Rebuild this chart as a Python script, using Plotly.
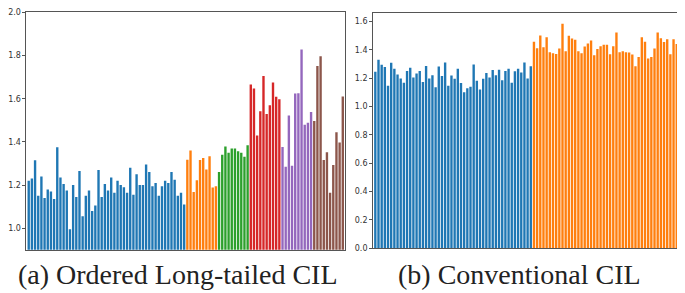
import plotly.graph_objects as go

# ---- data: (a) Ordered Long-tailed CIL ----
a_blue = [1.22, 1.23, 1.315, 1.15, 1.24, 1.14, 1.18, 1.17, 1.135, 1.375,
          1.235, 1.205, 1.175, 0.995, 1.20, 1.145, 1.265, 1.055, 1.15, 1.175,
          1.08, 1.105, 1.27, 1.145, 1.205, 1.175, 1.235, 1.165, 1.22, 1.20,
          1.19, 1.165, 1.28, 1.155, 1.25, 1.20, 1.20, 1.295, 1.26, 1.195,
          1.21, 1.15, 1.195, 1.22, 1.21, 1.26, 1.225, 1.15, 1.165, 1.11]
a_orange = [1.317, 1.360, 1.168, 1.222, 1.316, 1.326, 1.272, 1.334, 1.189, 1.195]
a_green = [1.260, 1.340, 1.379, 1.350, 1.370, 1.370, 1.357, 1.350, 1.331, 1.385]
a_red = [1.666, 1.648, 1.430, 1.542, 1.705, 1.529, 1.570, 1.675, 1.609, 1.598]
a_purple = [1.377, 1.285, 1.522, 1.290, 1.624, 1.626, 1.828, 1.479, 1.489, 1.539]
a_brown = [1.497, 1.752, 1.797, 1.316, 1.352, 1.165, 1.293, 1.445, 1.397, 1.610]

# ---- data: (b) Conventional CIL ----
b_blue = [1.246, 1.329, 1.295, 1.279, 1.147, 1.309, 1.267, 1.225, 1.198, 1.168,
          1.251, 1.274, 1.205, 1.232, 1.251, 1.172, 1.286, 1.198, 1.221, 1.135,
          1.283, 1.216, 1.311, 1.147, 1.218, 1.195, 1.267, 1.165, 1.101, 1.128,
          1.140, 1.297, 1.181, 1.119, 1.195, 1.237, 1.205, 1.258, 1.221, 1.260,
          1.186, 1.251, 1.267, 1.168, 1.249, 1.267, 1.239, 1.311, 1.197, 1.284]
b_orange = [1.457, 1.411, 1.501, 1.418, 1.489, 1.383, 1.376, 1.371, 1.409, 1.584,
            1.390, 1.499, 1.480, 1.471, 1.390, 1.376, 1.423, 1.445, 1.466, 1.362,
            1.406, 1.425, 1.436, 1.436, 1.369, 1.425, 1.522, 1.383, 1.390, 1.383,
            1.381, 1.367, 1.284, 1.350, 1.489, 1.457, 1.339, 1.350, 1.409, 1.522,
            1.482, 1.455, 1.475, 1.369, 1.475, 1.441, 1.369, 1.418, 1.541, 1.355]

a_y_ticks = [1.0, 1.2, 1.4, 1.6, 1.8, 2.0]
b_y_ticks = [0.0, 0.2, 0.4, 0.6, 0.8, 1.0, 1.2, 1.4, 1.6]
captions = ["(a) Ordered Long-tailed CIL", "(b) Conventional CIL"]

BLUE, ORANGE, GREEN, RED, PURPLE, BROWN = "#1f77b4", "#ff7f0e", "#2ca02c", "#d62728", "#9467bd", "#8c564b"

fig = go.Figure()

a_groups = [(a_blue, BLUE), (a_orange, ORANGE), (a_green, GREEN),
            (a_red, RED), (a_purple, PURPLE), (a_brown, BROWN)]
start = 0
for vals, col in a_groups:
    xs = list(range(start, start + len(vals)))
    fig.add_trace(go.Bar(x=xs, y=vals, marker=dict(color=col, line=dict(width=0)),
                         width=0.75, xaxis="x", yaxis="y", showlegend=False))
    start += len(vals)
n_a = start

start = 0
for vals, col in [(b_blue, BLUE), (b_orange, ORANGE)]:
    xs = list(range(start, start + len(vals)))
    fig.add_trace(go.Bar(x=xs, y=vals, marker=dict(color=col, line=dict(width=0)),
                         width=0.75, xaxis="x2", yaxis="y2", showlegend=False))
    start += len(vals)
n_b = start

axis_common = dict(showline=True, linecolor="#555", linewidth=1, mirror=True,
                   showgrid=False, zeroline=False)
tickfont = dict(family="DejaVu Sans", size=8, color="#333")

TOP = 4  # top margin in px
H = 293 - TOP


def dom(top_px, bottom_px):
    return [1 - (bottom_px - TOP) / H, min(1.0, 1 - (top_px - TOP) / H)]


cap_font = dict(family="Liberation Serif", size=28, color="#222")

fig.update_layout(
    width=685, height=293,
    margin=dict(l=0, r=0, t=TOP, b=0),
    paper_bgcolor="white", plot_bgcolor="white",
    barmode="overlay",
    xaxis=dict(domain=[0.027, 0.492], range=[-0.7, n_a - 0.3],
               showticklabels=False, ticks="", **axis_common),
    yaxis=dict(domain=dom(4, 246), range=[0.9, 2.002],
               tickvals=a_y_ticks, ticktext=[f"{v:.1f}" for v in a_y_ticks],
               ticks="outside", ticklen=3, tickcolor="#555", tickfont=tickfont,
               **axis_common),
    xaxis2=dict(domain=[0.533, 0.998], range=[-0.7, n_b - 0.3], anchor="y2",
                showticklabels=False, ticks="", **axis_common),
    yaxis2=dict(domain=dom(5, 244.3), range=[0.0, 1.66], anchor="x2",
                tickvals=b_y_ticks, ticktext=[f"{v:.1f}" for v in b_y_ticks],
                ticks="outside", ticklen=3, tickcolor="#555", tickfont=tickfont,
                **axis_common),
    annotations=[
        dict(text=captions[0], x=170 / 685, y=1 - 271 / 293, xref="paper", yref="paper",
             showarrow=False, xanchor="center", yanchor="middle", font=cap_font),
        dict(text=captions[1], x=512 / 685, y=1 - 271 / 293, xref="paper", yref="paper",
             showarrow=False, xanchor="center", yanchor="middle", font=cap_font),
    ],
)

fig.write_html("out.html")
